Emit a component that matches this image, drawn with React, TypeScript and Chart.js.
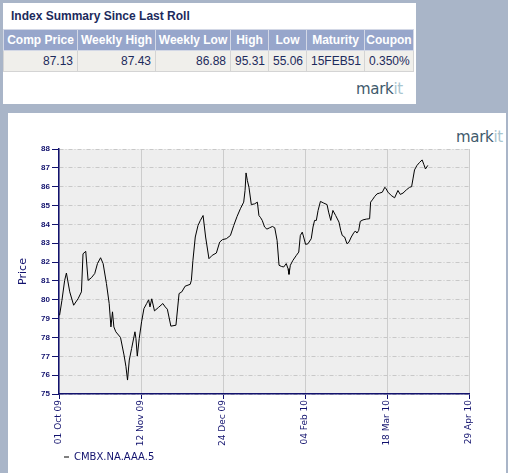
import React, { useEffect, useRef } from 'react';
import { Chart, registerables } from 'chart.js';

Chart.register(...registerables);

// ---- data ----
const tickDays = [0, 42, 84, 126, 168, 210];
const tickLabels = ['01 Oct 09', '12 Nov 09', '24 Dec 09', '04 Feb 10', '18 Mar 10', '29 Apr 10'];
const yMin = 75;
const yMax = 88;
const seriesLabel = 'CMBX.NA.AAA.5';
const yTitle = 'Price';

// days since 01 Oct 09
const days = [
  0.3, 1.5, 2.9, 3.8, 5.5, 7.5, 9.8, 11.5, 12.3, 13.7, 14.9, 16.6, 18.3, 19.7, 21.3, 22.6, 24.3, 25.7,
  26.6, 27.4, 28.1, 29.1, 31.5, 33.3, 34.3, 35.1, 36.0, 37.2, 38.9, 39.4, 40.1, 41.1, 42.3, 43.5, 44.9,
  45.9, 46.6, 47.5, 48.9, 50.9, 53.2, 54.4, 55.5, 57.3, 59.9, 61.5, 62.9, 64.6, 67.2, 67.8, 68.6, 69.8,
  71.2, 72.4, 73.8, 75.1, 76.8, 78.5, 80.6, 82.3, 83.7, 85.7, 87.8, 89.5, 91.2, 92.9, 94.6, 95.3, 95.8,
  96.5, 97.3, 98.5, 100.2, 101.6, 102.4, 103.3, 104.1, 105.3, 106.5, 107.9, 109.3, 110.5, 111.7, 112.7,
  113.9, 115.1, 116.4, 117.3, 117.8, 118.5, 119.8, 121.6, 122.8, 123.6, 124.6, 125.3, 126.3, 127.5,
  129.2, 130.1, 130.9, 131.8, 132.7, 133.9, 135.6, 137.3, 138.1, 139.2, 140.3, 141.7, 143.4, 144.3,
  145.1, 146.3, 147.5, 148.5, 149.7, 150.9, 151.8, 152.6, 153.5, 154.3, 155.7, 157.4, 159.1, 159.6,
  160.5, 161.7, 162.9, 164.2, 165.6, 166.9, 167.6, 168.5, 170.2, 171.9, 173.6, 174.8, 176.2, 177.9,
  179.6, 180.6, 181.3, 182.1, 183.3, 184.7, 186.0, 186.9, 187.7, 188.9,
];
const prices = [
  79.18, 79.97, 81.03, 81.42, 80.42, 79.71, 80.06, 80.42, 82.44, 82.57, 81.03, 81.17, 81.39, 81.92, 82.23,
  81.92, 80.86, 79.8, 78.56, 79.36, 78.56, 78.3, 78.0, 77.07, 76.45, 75.74, 76.8, 77.42, 78.3, 77.95,
  77.01, 77.95, 78.83, 79.53, 79.8, 80.0, 79.62, 80.05, 79.41, 79.59, 79.8, 79.62, 79.5, 78.6, 78.65,
  80.33, 80.42, 80.72, 80.82, 81.03, 82.09, 83.33, 83.94, 84.21, 84.47, 83.33, 82.18, 82.36, 82.48,
  83.06, 83.19, 83.24, 83.41, 83.94, 84.42, 84.83, 85.18, 85.8, 86.73, 86.32, 85.97, 85.05, 85.09,
  85.18, 84.47, 84.35, 84.21, 83.86, 83.75, 83.82, 83.89, 83.82, 83.15, 81.83, 81.77, 81.74, 81.92,
  81.65, 81.35, 81.83, 82.09, 82.36, 82.53, 83.41, 83.59, 83.33, 82.94, 82.97, 83.24, 83.86, 84.21,
  84.21, 84.74, 85.22, 85.13, 85.05, 84.65, 84.21, 84.74, 84.47, 84.12, 83.68, 83.41, 83.33, 82.97,
  83.06, 83.33, 83.54, 83.65, 83.54, 83.68, 84.16, 84.24, 84.28, 84.3, 85.18, 85.3, 85.48, 85.62,
  85.66, 85.71, 85.97, 85.88, 85.71, 85.53, 85.41, 85.8, 85.59, 85.66, 85.83, 85.97, 86.0, 86.41,
  86.89, 87.12, 87.29, 87.42, 87.17, 86.94, 87.13,
];

const tableTitle = 'Index Summary Since Last Roll';
const tableHeaders = ['Comp Price', 'Weekly High', 'Weekly Low', 'High', 'Low', 'Maturity', 'Coupon'];
const tableValues = ['87.13', '87.43', '86.88', '95.31', '55.06', '15FEB51', '0.350%'];
const colWidths = [74, 78, 75, 38, 38, 58, 49];

const NAVY = '#12126e';
const TABLE_NAVY = '#1c2a5c';

function Markit({ left, top }: { left: number; top: number }) {
  return (
    <div
      style={{
        position: 'absolute',
        left,
        top,
        font: '15px "DejaVu Sans", sans-serif',
        lineHeight: '15px',
        letterSpacing: '-0.3px',
        whiteSpace: 'nowrap',
      }}
    >
      <span style={{ color: '#415a6c' }}>mark</span>
      <span style={{ color: '#a9c5cf' }}>it</span>
    </div>
  );
}

const bgPlugin = {
  id: 'plotBg',
  beforeDraw(chart: any) {
    const { ctx, chartArea } = chart;
    if (!chartArea) return;
    ctx.save();
    ctx.fillStyle = '#eeeeee';
    ctx.fillRect(chartArea.left, chartArea.top, chartArea.right - chartArea.left, chartArea.bottom - chartArea.top);
    ctx.restore();
  },
};

function PriceChart() {
  const ref = useRef<HTMLCanvasElement | null>(null);
  useEffect(() => {
    if (!ref.current) return;
    const data = days.map((d, i) => ({ x: d, y: prices[i] }));
    const chart = new Chart(ref.current, {
      type: 'line',
      data: {
        datasets: [
          {
            label: seriesLabel,
            data,
            borderColor: '#000000',
            backgroundColor: '#000000',
            borderWidth: 1,
            pointRadius: 0,
            tension: 0,
            fill: false,
          },
        ],
      },
      plugins: [bgPlugin],
      options: {
        animation: false,
        responsive: false,
        devicePixelRatio: 1,
        layout: { padding: { top: 36, left: 0, right: 37, bottom: 1 } },
        plugins: {
          tooltip: { enabled: false },
          legend: {
            display: true,
            position: 'bottom',
            align: 'start',
            fullSize: false,
            labels: {
              usePointStyle: true,
              pointStyle: 'line',
              pointStyleWidth: 5,
              padding: 5,
              color: NAVY,
              font: { family: '"DejaVu Sans", sans-serif', size: 10 },
            },
          },
        },
        scales: {
          x: {
            type: 'linear',
            min: tickDays[0],
            max: tickDays[tickDays.length - 1],
            afterBuildTicks: (scale: any) => {
              scale.ticks = tickDays.map((v) => ({ value: v }));
            },
            afterFit: (scale: any) => {
              scale.height = 53;
            },
            ticks: {
              autoSkip: false,
              minRotation: 90,
              maxRotation: 90,
              padding: 1,
              color: NAVY,
              font: { family: '"DejaVu Sans", sans-serif', size: 9 },
              callback: (value: any) => {
                const i = tickDays.indexOf(Number(value));
                return i >= 0 ? tickLabels[i] : '';
              },
            },
            grid: {
              color: '#cccccc',
              lineWidth: 1,
              tickLength: 5,
              tickColor: NAVY,
            },
            border: { display: true, color: NAVY, width: 1.5 },
          },
          y: {
            type: 'linear',
            min: yMin,
            max: yMax,
            afterFit: (scale: any) => {
              scale.width = 51;
            },
            ticks: {
              stepSize: 1,
              padding: 2,
              color: NAVY,
              font: { family: '"Liberation Sans", sans-serif', size: 8, weight: 'bold' },
            },
            title: {
              display: true,
              text: yTitle,
              color: NAVY,
              padding: { top: 9, bottom: 0 },
              font: { family: '"DejaVu Sans", sans-serif', size: 11 },
            },
            grid: {
              color: '#c8c8c8',
              lineWidth: 1,
              tickLength: 7,
              tickColor: NAVY,
            },
            border: { display: true, color: NAVY, width: 1.5, dash: [4, 2, 1, 2] },
          },
        },
      },
    } as any);
    return () => chart.destroy();
  }, []);
  return <canvas ref={ref} width={498} height={360} style={{ display: 'block', width: 498, height: 360 }} />;
}

export default function App() {
  const cellBase: React.CSSProperties = {
    height: 20,
    padding: '0 4px',
    whiteSpace: 'nowrap',
    overflow: 'hidden',
    font: '12px "Liberation Sans", Arial, sans-serif',
    boxSizing: 'border-box',
  };
  return (
    <div
      style={{
        position: 'fixed',
        left: 0,
        top: 0,
        width: 508,
        height: 473,
        background: '#a9b5c8',
        overflow: 'hidden',
      }}
    >
      {/* summary panel */}
      <div style={{ position: 'absolute', left: 3, top: 3, width: 413, height: 101, background: '#ffffff' }}>
        <div
          style={{
            position: 'absolute',
            left: 8,
            top: 6,
            font: 'bold 12px "Liberation Sans", Arial, sans-serif',
            lineHeight: '14px',
            color: TABLE_NAVY,
            whiteSpace: 'nowrap',
          }}
        >
          {tableTitle}
        </div>
        <table
          style={{
            position: 'absolute',
            left: 0,
            top: 26,
            borderCollapse: 'collapse',
            tableLayout: 'fixed',
            width: colWidths.reduce((a, b) => a + b, 0),
          }}
        >
          <colgroup>
            {colWidths.map((w, i) => (
              <col key={i} style={{ width: w }} />
            ))}
          </colgroup>
          <tbody>
            <tr>
              {tableHeaders.map((h, i) => (
                <td
                  key={i}
                  style={{
                    ...cellBase,
                    height: 21,
                    background: '#97a6cb',
                    color: '#ffffff',
                    fontWeight: 'bold',
                    textAlign: 'center',
                    border: '1px solid #d3d8e6',
                    padding: '0 1px',
                  }}
                >
                  {h}
                </td>
              ))}
            </tr>
            <tr>
              {tableValues.map((v, i) => (
                <td
                  key={i}
                  style={{
                    ...cellBase,
                    height: 21,
                    background: '#f0efeb',
                    color: TABLE_NAVY,
                    textAlign: 'right',
                    border: '1px solid #d4d4d4',
                  }}
                >
                  {v}
                </td>
              ))}
            </tr>
          </tbody>
        </table>
        <Markit left={353} top={79} />
      </div>

      {/* chart panel */}
      <div style={{ position: 'absolute', left: 8, top: 113, width: 498, height: 360, background: '#ffffff' }}>
        <Markit left={448} top={17} />
        <div style={{ position: 'absolute', left: 0, top: 0 }}>
          <PriceChart />
        </div>
      </div>
    </div>
  );
}
